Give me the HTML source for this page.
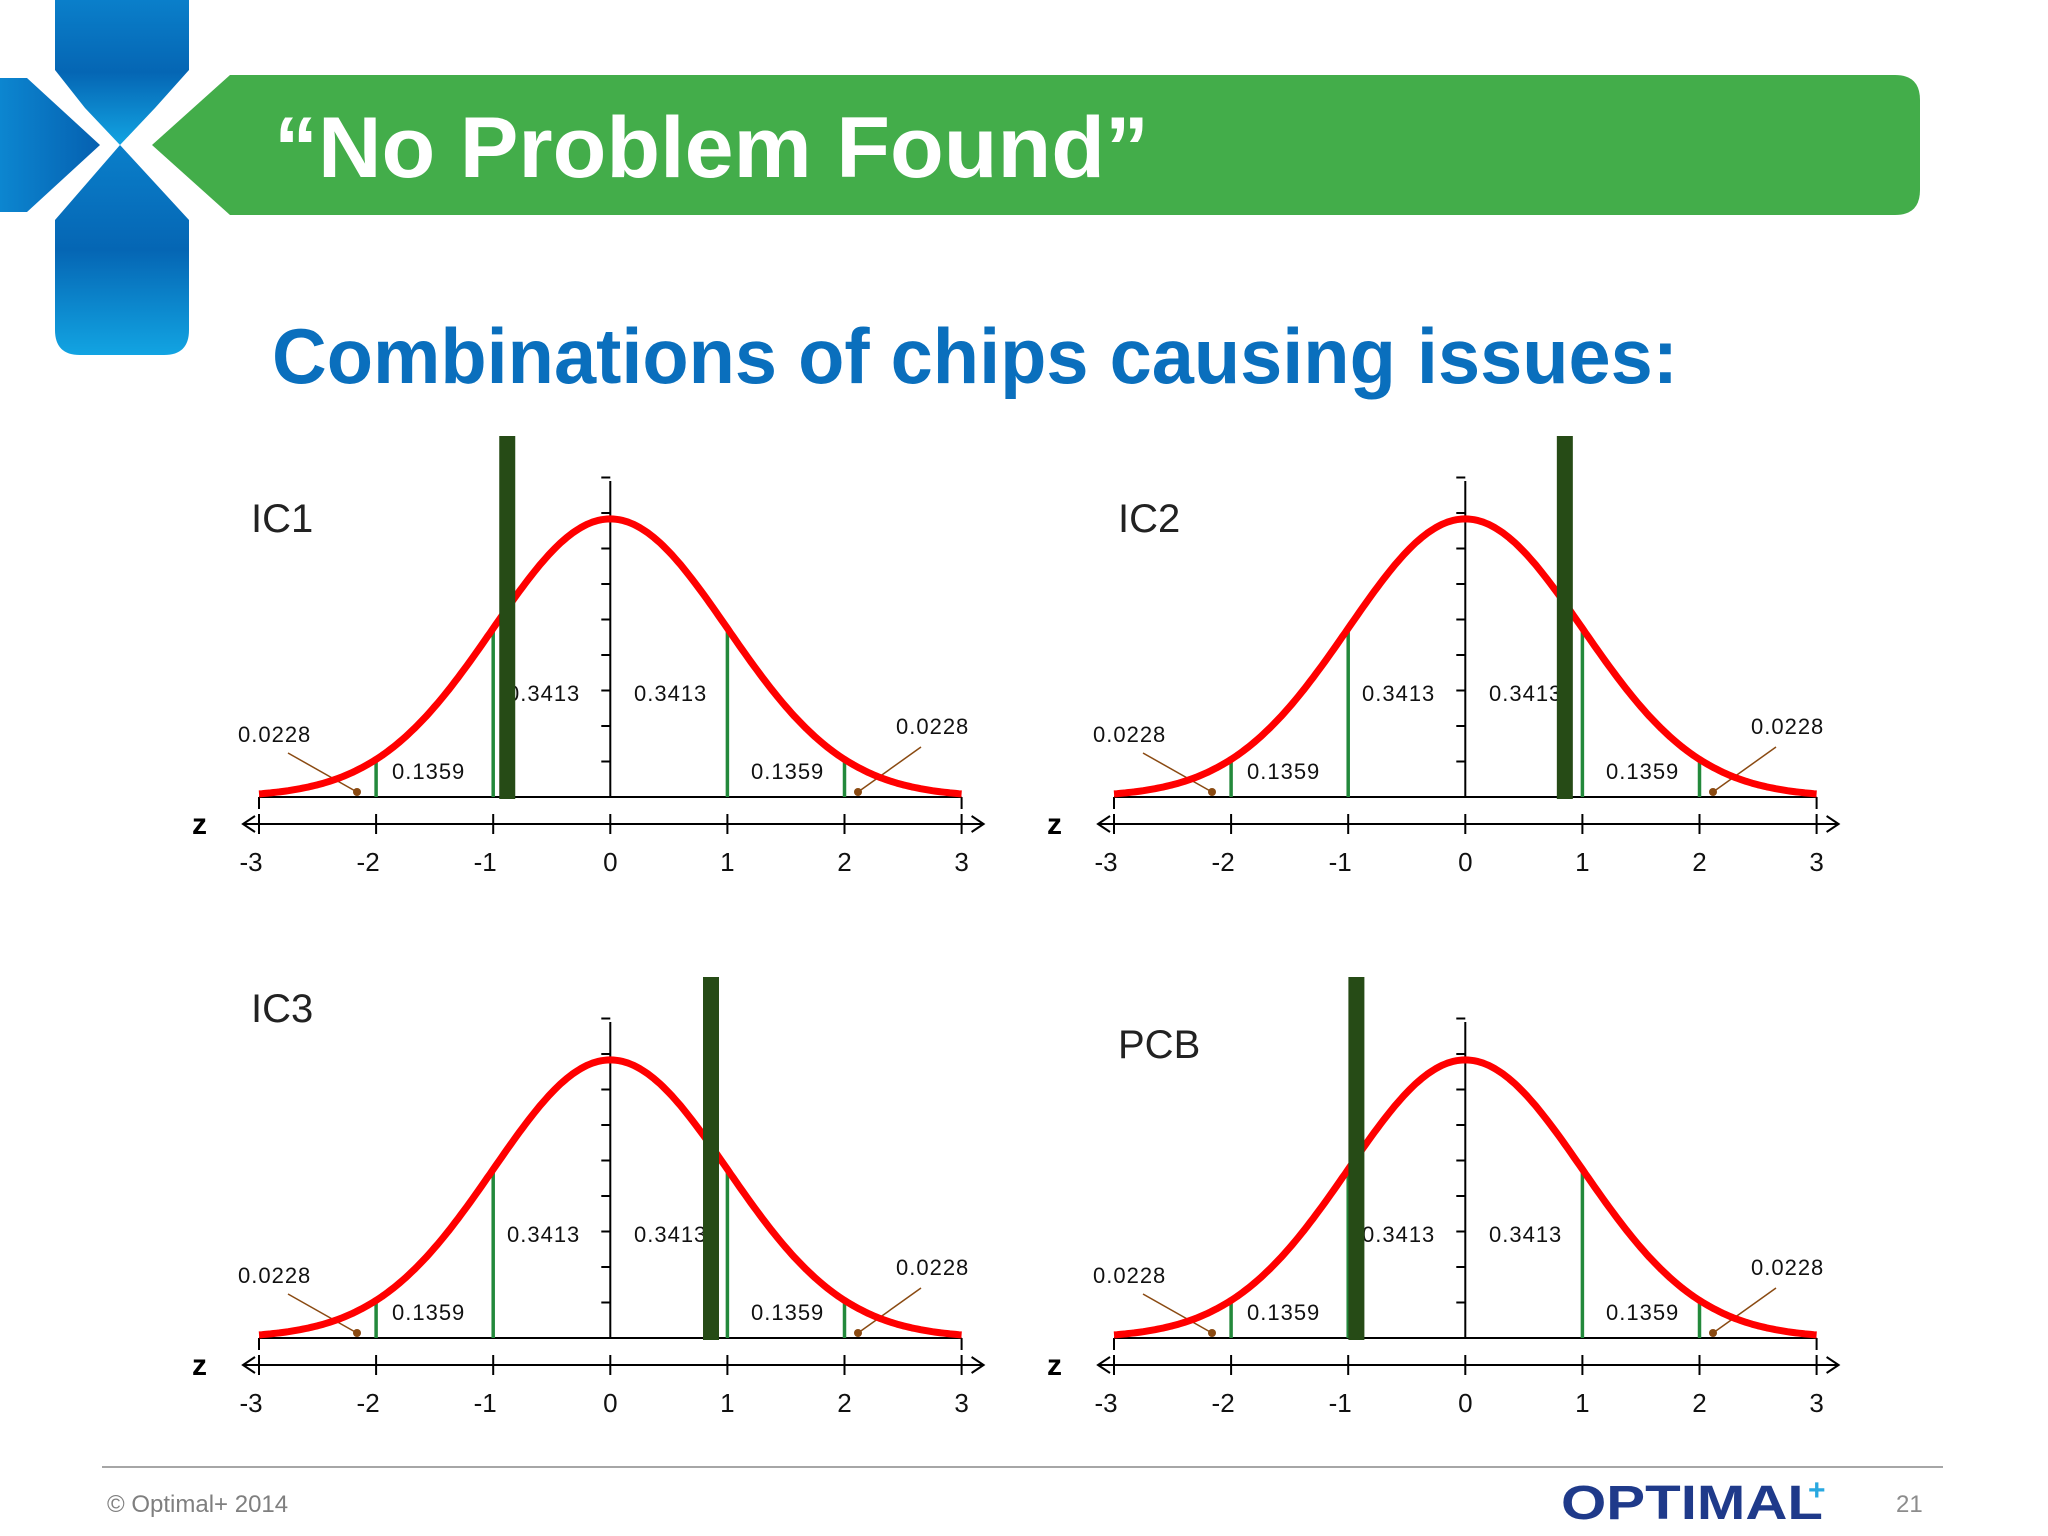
<!DOCTYPE html>
<html><head><meta charset="utf-8"><style>
html,body{margin:0;padding:0;background:#fff;}
svg{display:block;}
</style></head><body>
<svg id="slide" width="2048" height="1536" viewBox="0 0 2048 1536" xmlns="http://www.w3.org/2000/svg" font-family="Liberation Sans, Arial, sans-serif">
<defs>
<linearGradient id="lg" x1="0" y1="0" x2="0" y2="1">
<stop offset="0" stop-color="#0a7fca"/><stop offset="0.5" stop-color="#0566b4"/><stop offset="1" stop-color="#12a4e2"/>
</linearGradient>
<linearGradient id="lg2" x1="0" y1="0" x2="1" y2="0">
<stop offset="0" stop-color="#0c86d0"/><stop offset="1" stop-color="#0560b0"/>
</linearGradient>
</defs>
<g>
<path d="M55 0 H189 V70 L155 108 L120 145 L85 108 L55 70 Z" fill="url(#lg)"/>
<path d="M0 78 H27 L100 145 L27 212 H0 Z" fill="url(#lg2)"/>
<path d="M55 220 L120 145 L189 220 V330 Q189 355 164 355 H80 Q55 355 55 330 Z" fill="url(#lg)"/>
</g>
<path d="M152 145 L230 75 H1895 Q1920 75 1920 100 V190 Q1920 215 1895 215 H230 Z" fill="#43ad4a"/>
<text x="274" y="177" font-size="86" font-weight="bold" fill="#fff" textLength="875" lengthAdjust="spacingAndGlyphs">“No Problem Found”</text>
<text x="272" y="383" font-size="78" font-weight="bold" fill="#0a6fbd" textLength="1406" lengthAdjust="spacingAndGlyphs">Combinations of chips causing issues:</text>
<g id="charts"></g>
<line x1="102" y1="1467" x2="1943" y2="1467" stroke="#a6a6a6" stroke-width="2"/>
<text x="107" y="1512" font-size="24" fill="#7f7f7f">© Optimal+ 2014</text>
<text x="1896" y="1512" font-size="24" fill="#8c8c8c">21</text>
<g>
<text x="1561" y="1519" font-size="48" font-weight="bold" fill="#1f3a8a" textLength="262" lengthAdjust="spacingAndGlyphs">OPTIMAL</text>
<text x="1808" y="1500" font-size="30" font-weight="bold" fill="#29a8e0">+</text>
</g>
</svg>
<script>
const zTicks = [-3,-2,-1,0,1,2,3];
const panelNames = ["IC1","IC2","IC3","PCB"];
const barZ = [-0.88, 0.85, 0.86, -0.93];
const areaValues = ["0.0228","0.1359","0.3413","0.3413","0.1359","0.0228"];
const dividerZ = [-2,-1,1,2];

const NS = "http://www.w3.org/2000/svg";
const root = document.getElementById("charts");
function mk(tag, attrs, parent){
  const e = document.createElementNS(NS, tag);
  for (const k in attrs) e.setAttribute(k, attrs[k]);
  parent.appendChild(e);
  return e;
}
const unit = 117.1, ys = 697;
const pdf = z => Math.exp(-z*z/2)/Math.sqrt(2*Math.PI);
const labelPos = [[-21,-63],[133,-26],[248,-104],[375,-104],[492,-26],[637,-71]];
const namePos = [[251,532],[1118,532],[251,1022],[1118,1058]];

panelNames.forEach((name, i) => {
  const col = i % 2, row = Math.floor(i / 2);
  const ox = 259 + col*855, by = 797 + row*541;
  const X = z => ox + (z+3)*unit;
  const Y = d => by - d*ys;
  const g = mk("g", {}, root);
  
  

  const t = mk("text", {x:namePos[i][0], y:namePos[i][1], "font-size":40, fill:"#222"}, g);
  t.textContent = name;
  
  

  // vertical axis
  const va = mk("line", {x1:X(0), y1:by-316, x2:X(0), y2:by, stroke:"#000", "stroke-width":2}, g);
  
  
  for (let k=1;k<=9;k++){
    const yy = by - k*35.5;
    const tk = mk("line", {x1:X(0)-9, y1:yy, x2:X(0), y2:yy, stroke:"#000", "stroke-width":2}, g);
    
    
  }
  // baseline
  const bl = mk("line", {x1:X(-3), y1:by, x2:X(3), y2:by, stroke:"#000", "stroke-width":2}, g);
  
  
  [-3,3].forEach(z=>{ const e=mk("line",{x1:X(z),y1:by,x2:X(z),y2:by+12,stroke:"#000","stroke-width":2},g);
      });

  // green dividers
  dividerZ.forEach(z=>{
    const l = mk("line", {x1:X(z), y1:by, x2:X(z), y2:Y(pdf(z)), stroke:"#23893b", "stroke-width":3.5}, g);
    
    
  });

  // area labels
  areaValues.forEach((v, k)=>{
    const tx = mk("text", {x:ox+labelPos[k][0], y:by+labelPos[k][1]+8, "font-size":22, fill:"#111", "letter-spacing":"1"}, g);
    tx.textContent = v;
    
    
  });
  // arrows
  [[29,-44,98,-5],[662,-50,599,-5]].forEach(a=>{
    const l = mk("line", {x1:ox+a[0], y1:by+a[1], x2:ox+a[2], y2:by+a[3], stroke:"#8a4a12", "stroke-width":1.5}, g);
    
    
    const c = mk("circle", {cx:ox+a[2], cy:by+a[3], r:4, fill:"#8a4a12"}, g);
    
    
  });

  // curve
  let d = "";
  for (let s=0;s<=240;s++){ const z=-3+s*6/240; d += (s?"L":"M") + X(z).toFixed(1) + " " + Y(pdf(z)).toFixed(1); }
  const cv = mk("path", {d:d, fill:"none", stroke:"#ff0000", "stroke-width":7, "stroke-linejoin":"round"}, g);
  
  

  // marker bar
  const bar = mk("rect", {x:X(barZ[i])-8, y:by-361, width:16, height:363, fill:"#264b16"}, g);
  
  

  // z axis
  const ay = by + 27;
  const za = mk("line", {x1:X(-3)-16, y1:ay, x2:X(3)+22, y2:ay, stroke:"#000", "stroke-width":2}, g);
  
  
  const al = mk("path", {d:`M${X(-3)-4} ${ay-8} L${X(-3)-16} ${ay} L${X(-3)-4} ${ay+8} M${X(3)+10} ${ay-8} L${X(3)+22} ${ay} L${X(3)+10} ${ay+8}`, fill:"none", stroke:"#000", "stroke-width":2}, g);
  
  
  zTicks.forEach(z=>{
    const tk = mk("line", {x1:X(z), y1:ay-10, x2:X(z), y2:ay+10, stroke:"#000", "stroke-width":2}, g);
    
    
    const lb = mk("text", {x:X(z)+(z<0?-8:0), y:ay+47, "font-size":26, fill:"#111", "text-anchor":"middle"}, g);
    lb.textContent = String(z);
    
    
  });
  const zl = mk("text", {x:ox-67, y:ay+10, "font-size":30, "font-weight":"bold", fill:"#000"}, g);
  zl.textContent = "z";
  
  
});
</script>
</body></html>
